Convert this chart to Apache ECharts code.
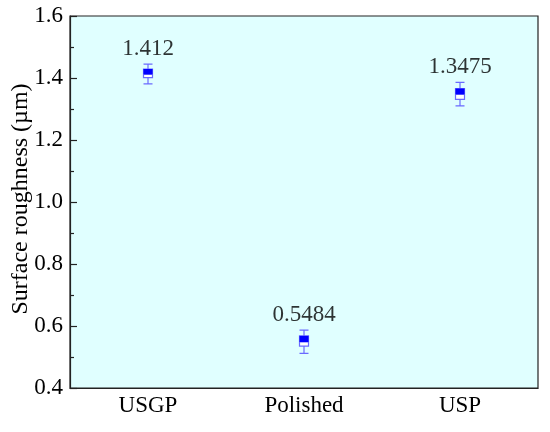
<!DOCTYPE html>
<html>
<head>
<meta charset="utf-8">
<script src="https://cdn.jsdelivr.net/npm/echarts@6/dist/echarts.min.js"></script>
<style>html,body{margin:0;padding:0;background:#fff;}#c{width:550px;height:432px;}</style>
</head>
<body>
<div id="c"></div>
<script>
const categories = ['USGP', 'Polished', 'USP'];
const whiskerMin = [1.381, 0.512, 1.310];
const q1 = [1.401, 0.535, 1.331];
const median = [1.412, 0.5484, 1.3475];
const q3 = [1.429, 0.568, 1.366];
const whiskerMax = [1.445, 0.587, 1.386];
const labels = ['1.412', '0.5484', '1.3475'];
const yTicks = [0.4, 0.6, 0.8, 1.0, 1.2, 1.4, 1.6];

const font = 'Liberation Serif';
const boxData = categories.map((c, i) => [whiskerMin[i], q1[i], median[i], q3[i], whiskerMax[i]]);
const upperFill = categories.map((c, i) => +(q3[i] - median[i]).toFixed(4));

const chart = echarts.init(document.getElementById('c'));
chart.setOption({
  animation: false,
  backgroundColor: '#ffffff',
  grid: {
    left: 70, top: 16, right: 12, bottom: 44,
    outerBoundsMode: 'none',
    containLabel: false,
    show: true, backgroundColor: '#e0ffff', borderColor: '#222', borderWidth: 1.2
  },
  xAxis: {
    type: 'category',
    data: categories,
    axisLine: { lineStyle: { color: '#222', width: 1.2 } },
    axisTick: { inside: true, alignWithLabel: true, length: 6, lineStyle: { color: '#222', width: 1.2 } },
    axisLabel: { color: '#000', fontFamily: font, fontSize: 23, margin: 6 },
    splitLine: { show: false }
  },
  yAxis: {
    type: 'value',
    min: yTicks[0], max: yTicks[yTicks.length - 1], interval: 0.2,
    name: 'Surface roughness (µm)',
    nameLocation: 'middle',
    nameGap: 37,
    nameMoveOverlap: false,
    nameTextStyle: { color: '#000', fontFamily: font, fontSize: 24, padding: [0, 0, 0, 6] },
    axisLine: { show: true, lineStyle: { color: '#222', width: 1.2 } },
    axisTick: { show: true, inside: true, length: 7, lineStyle: { color: '#222', width: 1.2 } },
    minorTick: { show: true, splitNumber: 2, length: 4, lineStyle: { color: '#222', width: 1.2 } },
    axisLabel: { color: '#000', fontFamily: font, fontSize: 23, margin: 7, formatter: v => v.toFixed(1) },
    splitLine: { show: false }
  },
  series: [
    {
      type: 'boxplot',
      data: boxData,
      boxWidth: [9, 9],
      itemStyle: { color: '#ffffff', borderColor: '#6a6aff', borderWidth: 1.2 },
      z: 2
    },
    {
      type: 'bar',
      stack: 'fill',
      data: median,
      barWidth: 9,
      itemStyle: { color: 'rgba(0,0,0,0)' },
      silent: true,
      z: 3
    },
    {
      type: 'bar',
      stack: 'fill',
      data: upperFill,
      barWidth: 9,
      itemStyle: { color: '#0000ff' },
      z: 3
    },
    {
      type: 'scatter',
      data: whiskerMax,
      symbolSize: 0,
      label: {
        show: true, position: 'top', distance: 4,
        color: '#000', fontFamily: font, fontSize: 23,
        formatter: p => labels[p.dataIndex]
      },
      z: 4
    }
  ]
});
</script>
</body>
</html>
